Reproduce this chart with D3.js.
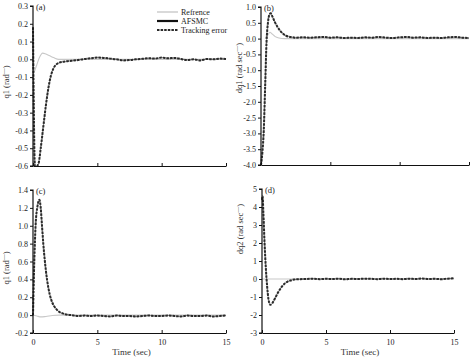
<!DOCTYPE html>
<html><head><meta charset="utf-8">
<script src="https://cdn.jsdelivr.net/npm/d3@7"></script>
<style>
body{margin:0;background:#fff;}
svg{display:block;font-family:"Liberation Serif","Times New Roman",serif;}
</style></head>
<body><svg id="c" width="474" height="358"></svg>
<script>
// ---------- data ----------
const tSteady = [2.5,3,3.5,4,4.5,5,5.5,6,6.5,7,7.5,8,8.5,9,9.5,10,10.5,11,11.5,12,12.5,13,13.5,14,14.5,15];

// panel (a) q1
const tA = [0,0.05,0.15,0.3,0.45,0.6,0.8,1.0,1.2,1.4,1.6,1.8,2.0];
const resA = [0.18,-0.2,-0.6,-0.6,-0.58,-0.5,-0.38,-0.26,-0.16,-0.09,-0.05,-0.03,-0.02];
const steadyA = [-0.012,-0.008,-0.004,0.002,0.006,0.01,0.008,0.004,0.0,-0.006,-0.004,0.0,0.003,0.006,0.004,0.01,0.006,0.008,0.002,-0.004,0.0,-0.006,0.002,0.0,0.004,0.002];
const refTA = [0.1,0.3,0.5,0.75,1.0,1.3,1.6,2.0,2.5,15];
const refA = [-0.07,-0.03,0.01,0.035,0.03,0.02,0.01,0.0,0,0];

// panel (b) dq1
const tB = [0,0.1,0.2,0.3,0.4,0.5,0.6,0.7,0.8,1.0,1.2,1.4,1.6,1.8,2.0,2.3];
const resB = [-4.0,-3.6,-2.9,-1.5,-0.1,0.5,0.75,0.8,0.72,0.52,0.36,0.24,0.15,0.09,0.06,0.04];
const steadyB = [0.03,0.04,0.03,0.04,0.05,0.03,0.04,0.02,0.03,0.02,0.04,0.03,0.05,0.03,0.02,0.04,0.05,0.03,0.04,0.02,0.03,0.02,0.04,0.05,0.03,0.02];
const refTB = [0.3,0.5,0.65,0.8,1.0,1.3,1.7,15];
const refB = [0,0.12,0.2,0.15,0.07,0.02,0,0];

// panel (c) q2
const tC = [0,0.1,0.2,0.35,0.5,0.6,0.7,0.8,1.0,1.2,1.4,1.6,1.8,2.0,2.3];
const resC = [0,0.6,1.0,1.22,1.29,1.2,1.0,0.8,0.5,0.3,0.18,0.11,0.07,0.04,0.02];
const steadyC = [0.01,0.0,-0.01,-0.005,-0.01,-0.005,-0.01,-0.015,-0.005,-0.01,-0.01,-0.015,-0.01,-0.005,-0.01,-0.01,-0.005,-0.01,-0.015,-0.005,-0.01,-0.01,-0.005,-0.015,-0.01,-0.005];
const refTC = [0,0.3,0.6,1.0,1.5,2.0,15];
const refC = [0,-0.01,-0.02,-0.015,-0.005,0,0];

// panel (d) dq2
const tD = [0,0.05,0.1,0.2,0.3,0.4,0.5,0.65,0.8,1.0,1.2,1.4,1.6,1.8,2.0,2.3];
const resD = [4.4,4.6,3.8,2.0,0.6,-0.4,-1.1,-1.43,-1.35,-1.1,-0.82,-0.58,-0.38,-0.24,-0.14,-0.07];
const steadyD = [-0.03,-0.01,0.0,0.02,-0.01,0.01,0.0,0.02,-0.02,0.01,0.0,0.02,0.01,-0.01,0.02,0.0,0.01,-0.01,0.02,0.0,0.03,0.0,0.01,-0.01,0.02,0.04];
const refTD = [0,15];
const refD = [0,0];

const xTicks = [0,5,10,15];
const yTicksA = [0.3,0.2,0.1,0.0,-0.1,-0.2,-0.3,-0.4,-0.5,-0.6];
const yTicksB = [1.0,0.5,0.0,-0.5,-1.0,-1.5,-2.0,-2.5,-3.0,-3.5,-4.0];
const yTicksC = [1.4,1.2,1.0,0.8,0.6,0.4,0.2,0.0,-0.2];
const yTicksD = [5,4,3,2,1,0,-1,-2,-3];
const legendNames = ["Refrence","AFSMC","Tracking error"];

// ---------- drawing ----------
const svg = d3.select("#c");
const panels = [
  {id:"(a)", t:tA, r:resA, s:steadyA, rt:refTA, rv:refA, xr:[33,226], yr:[166,6], yd:[-0.6,0.3], yt:yTicksA, fmt:".1f", xl:false, lab:["q1 (rad","—",")"], lx:9, ly:82},
  {id:"(b)", t:tB, r:resB, s:steadyB, rt:refTB, rv:refB, xr:[261,469], yr:[165,7], yd:[-4,1], yt:yTicksB, fmt:".1f", xl:false, lab:["dq1 (rad sec","—",")"], lx:242, ly:68},
  {id:"(c)", t:tC, r:resC, s:steadyC, rt:refTC, rv:refC, xr:[33,226], yr:[333,190], yd:[-0.2,1.4], yt:yTicksC, fmt:".1f", xl:true, lab:["q1 (rad","—",")"], lx:9, ly:268},
  {id:"(d)", t:tD, r:resD, s:steadyD, rt:refTD, rv:refD, xr:[262,454], yr:[333,189], yd:[-3,5], yt:yTicksD, fmt:"d", xl:true, lab:["dq2 (rad sec","—",")"], lx:243, ly:229}
];

panels.forEach(p=>{
  const x = d3.scaleLinear().domain([0,15]).range(p.xr);
  const y = d3.scaleLinear().domain(p.yd).range(p.yr);
  const g = svg.append("g");
  const f = d3.format(p.fmt);
  const resp = p.t.map((t,i)=>[t,p.r[i]]).concat(tSteady.map((t,i)=>[t,p.s[i]]));
  const ref = p.rt.map((t,i)=>[t,p.rv[i]]);
  const line = d3.line().x(d=>x(d[0])).y(d=>y(d[1])).curve(d3.curveMonotoneX);

  g.append("path").datum(ref).attr("d",line).attr("fill","none").attr("stroke","#c8c8c8").attr("stroke-width",1.1);
  g.append("path").datum(resp).attr("d",line).attr("fill","none").attr("stroke","#555").attr("stroke-width",0.7);
  g.append("path").datum(resp).attr("d",line).attr("fill","none").attr("stroke","#2a2a2a").attr("stroke-width",2).attr("stroke-dasharray","2.5,1.1");

  // axes
  const ya = g.append("g").attr("transform",`translate(${p.xr[0]},0)`)
    .call(d3.axisLeft(y).tickValues(p.yt).tickSize(3).tickPadding(2).tickFormat(v=>f(v).replace("−","-")));
  const xa = g.append("g").attr("transform",`translate(0,${p.yr[0]})`)
    .call(d3.axisBottom(x).tickValues(xTicks).tickSizeInner(-3).tickSizeOuter(0).tickPadding(6).tickFormat(p.xl?d3.format("d"):""));
  [ya,xa].forEach(a=>{
    a.select(".domain").attr("stroke","#111").attr("stroke-width",1.2);
    a.selectAll(".tick line").attr("stroke","#111");
    a.selectAll("text").attr("font-family","Liberation Serif").attr("font-size",8).attr("fill","#222");
  });
  ya.select(".domain").attr("d",`M-3,${p.yr[1]}H0V${p.yr[0]}H-3`);

  g.append("text").attr("x",p.xr[0]+3).attr("y",p.yr[1]+4).attr("font-size",8.5).attr("fill","#222").text(p.id);

  const lt = g.append("text").attr("transform",`translate(${p.lx},${p.ly}) rotate(-90)`)
    .attr("text-anchor","middle").attr("font-size",8.5).attr("fill","#333");
  lt.append("tspan").text(p.lab[0]);
  lt.append("tspan").attr("dy",-3).attr("font-size",6).text(p.lab[1]);
  lt.append("tspan").attr("dy",3).text(p.lab[2]);

  if(p.xl){
    g.append("text").attr("x",(p.xr[0]+p.xr[1])/2+2).attr("y",355).attr("text-anchor","middle")
      .attr("font-size",9).attr("fill","#333").text("Time (sec)");
  }
});

// legend in panel (a)
const lg = svg.append("g");
const ly0 = [12,21,30];
legendNames.forEach((n,i)=>{
  const l = lg.append("line").attr("x1",157).attr("x2",178).attr("y1",ly0[i]).attr("y2",ly0[i]);
  if(i===0) l.attr("stroke","#bbb").attr("stroke-width",1.1);
  if(i===1) l.attr("stroke","#111").attr("stroke-width",2.2);
  if(i===2) l.attr("stroke","#2a2a2a").attr("stroke-width",2).attr("stroke-dasharray","2.5,1.1");
  lg.append("text").attr("x",181).attr("y",ly0[i]+3).attr("font-size",8).attr("fill","#222").text(n);
});
</script></body></html>
